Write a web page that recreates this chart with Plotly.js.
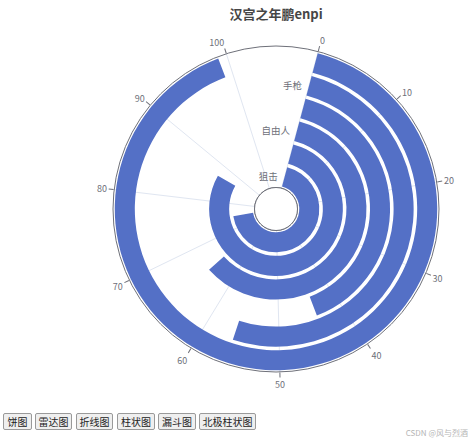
<!DOCTYPE html>
<html>
<head>
<meta charset="utf-8">
<script src="https://cdn.plot.ly/plotly-3.0.1.min.js"></script>
<style>
  html, body { margin:0; padding:0; background:#fff; width:474px; height:439px; overflow:hidden; }
  #chart { position:absolute; left:0; top:0; width:474px; height:439px; }
  .btn { position:absolute; top:413px; height:17px; box-sizing:border-box; padding:0; margin:0;
         font-family:"Noto Sans CJK SC","Noto Sans",sans-serif; font-size:10px; line-height:15px;
         color:#222; background:#efefef; border:1px solid #9a9a9a; border-radius:2px; text-align:center; }
  #wm { position:absolute; top:427px; right:6px; font-family:"Noto Sans CJK SC",sans-serif; font-size:8px; color:#b5b5b5; }
</style>
</head>
<body>
<div id="chart"></div>
<button class="btn" style="left:3px;width:29px">饼图</button>
<button class="btn" style="left:35px;width:37px">雷达图</button>
<button class="btn" style="left:76px;width:37px">折线图</button>
<button class="btn" style="left:117px;width:38px">柱状图</button>
<button class="btn" style="left:158px;width:38px">漏斗图</button>
<button class="btn" style="left:199px;width:57px">北极柱状图</button>
<div id="wm">CSDN @风与烈酒</div>
<script>
// ---- data ----
const categories = ['狙击', '步枪', '自由人', '冲锋枪', '手枪', '霰弹枪'];
const values = [75, 87, 65, 44, 56, 99];
const angleTicks = [0, 10, 20, 30, 40, 50, 60, 70, 80, 90, 100];
const angleMax = 110;
const shownRadiusLabels = ['狙击', '自由人', '手枪'];

// ---- build ----
const toDeg = v => v * 360 / angleMax;
const bandFill = 0.85;
const barTrace = {
  type: 'barpolar',
  theta: values.map(v => toDeg(v / 2)),
  width: values.map(v => toDeg(v)),
  base: categories.map((c, i) => i + (1 - bandFill) / 2),
  r: categories.map(() => bandFill),
  marker: { color: '#5470C6', line: { width: 0 } },
  hoverinfo: 'skip',
  showlegend: false
};
const ringTheta = [];
for (let a = 0; a <= 360; a += 3) ringTheta.push(a);
const innerRing = {
  type: 'scatterpolar', mode: 'lines',
  theta: ringTheta, r: ringTheta.map(() => 0),
  line: { color: '#6E7079', width: 1 },
  hoverinfo: 'skip', showlegend: false
};

const layout = {
  width: 474, height: 439,
  margin: { l: 0, r: 0, t: 0, b: 0 },
  paper_bgcolor: '#fff',
  showlegend: false,
  title: {
    text: '汉宫之年鹏enpi',
    x: 276 / 474, xanchor: 'center', xref: 'paper',
    y: 1 - 14 / 439, yanchor: 'middle', yref: 'paper',
    font: { family: '"Noto Sans CJK SC", "Noto Sans", sans-serif', size: 13, color: '#464646', weight: 'bold' }
  },
  polar: {
    domain: { x: [113 / 474, 439 / 474], y: [1 - 372 / 439, 1 - 46 / 439] },
    hole: 21.5 / 163,
    bgcolor: 'rgba(0,0,0,0)',
    angularaxis: {
      rotation: 75, direction: 'clockwise',
      tickmode: 'array',
      tickvals: angleTicks.map(toDeg),
      ticktext: angleTicks.map(String),
      showline: true, linecolor: '#6E7079', linewidth: 1,
      ticks: 'outside', ticklen: 5, tickcolor: '#6E7079',
      showgrid: true, gridcolor: '#E0E6F1', gridwidth: 1,
      tickfont: { family: '"Noto Sans CJK SC", "Noto Sans", sans-serif', size: 9, color: '#6E7079' }
    },
    radialaxis: {
      range: [0, categories.length],
      angle: 75, side: 'counterclockwise',
      tickmode: 'array',
      tickvals: shownRadiusLabels.map(n => categories.indexOf(n) + 0.5),
      ticktext: shownRadiusLabels,
      showline: false, showgrid: false, ticks: '',
      tickangle: 75,
      tickfont: { family: '"Noto Sans CJK SC", "Noto Sans", sans-serif', size: 9.5, color: '#6E7079' }
    }
  }
};

Plotly.newPlot('chart', [barTrace, innerRing], layout, { displayModeBar: false, staticPlot: true });
</script>
</body>
</html>
